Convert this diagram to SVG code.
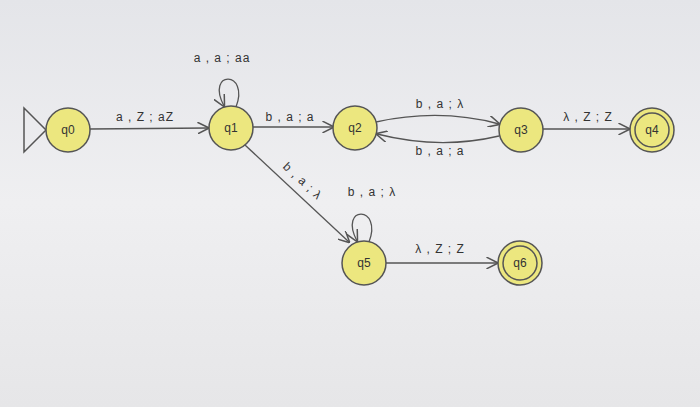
<svg xmlns="http://www.w3.org/2000/svg" width="700" height="407" viewBox="0 0 700 407">
<defs>
<linearGradient id="bg" x1="0" y1="0" x2="0" y2="1"><stop offset="0" stop-color="#e4e5e9"/><stop offset="0.5" stop-color="#efeff1"/><stop offset="1" stop-color="#e6e6e8"/></linearGradient>
<marker id="ar" viewBox="0 0 10 10" refX="9" refY="5" markerWidth="9" markerHeight="9" orient="auto"><path d="M0,0 L10,5 L0,10" fill="none" stroke="#555" stroke-width="1.3"/></marker>
</defs>
<style>
.n{fill:#ece77f;stroke:#555;stroke-width:1.5}
.t{font-family:"Liberation Sans",Arial,sans-serif;font-size:12px;fill:#333;text-anchor:middle}
.l{font-family:"Liberation Sans",Arial,sans-serif;font-size:12px;fill:#333;text-anchor:middle;letter-spacing:1px}
.e{fill:none;stroke:#555;stroke-width:1.3;marker-end:url(#ar)}
</style>
<rect width="700" height="407" fill="url(#bg)"/>
<g id="connectors">
<path class="e" d="M90,129 L208,128"/>
<path class="e" d="M236,107 C250,70 205,70 224,106"/>
<path class="e" d="M253,127 L333,127"/>
<path class="e" d="M376,122 Q440,108 499,124"/>
<path class="e" d="M499,136 Q440,150 377,134"/>
<path class="e" d="M543,129 L629,129"/>
<path class="e" d="M245,145 L349,242"/>
<path class="e" d="M369,242 C383,205 338,205 357,241"/>
<path class="e" d="M386,263 L497,263"/>
</g>
<g class="l">
<text x="145" y="121">a , Z ; aZ</text>
<text x="222" y="62">a , a ; aa</text>
<text x="290" y="121">b , a ; a</text>
<text x="440" y="108">b , a ; λ</text>
<text x="440" y="155">b , a ; a</text>
<text x="588" y="121">λ , Z ; Z</text>
<text x="300" y="184" transform="rotate(43 300 184)">b , a ; λ</text>
<text x="372" y="196">b , a ; λ</text>
<text x="440" y="253">λ , Z ; Z</text>
</g>
<path id="start" d="M24,108 L24,152 L46,130 Z" fill="none" stroke="#555" stroke-width="1.5"/>
<g id="q0"><circle class="n" cx="68" cy="130" r="22"/><text class="t" x="68" y="134">q0</text></g>
<g id="q1"><circle class="n" cx="231" cy="128" r="22"/><text class="t" x="231" y="132">q1</text></g>
<g id="q2"><circle class="n" cx="355" cy="128" r="22"/><text class="t" x="355" y="132">q2</text></g>
<g id="q3"><circle class="n" cx="521" cy="130" r="22"/><text class="t" x="521" y="134">q3</text></g>
<g id="q4"><circle class="n" cx="652" cy="130" r="22"/><circle cx="652" cy="130" r="17" fill="none" stroke="#555" stroke-width="1.5"/><text class="t" x="652" y="134">q4</text></g>
<g id="q5"><circle class="n" cx="364" cy="263" r="22"/><text class="t" x="364" y="267">q5</text></g>
<g id="q6"><circle class="n" cx="520" cy="263" r="22"/><circle cx="520" cy="263" r="17" fill="none" stroke="#555" stroke-width="1.5"/><text class="t" x="520" y="267">q6</text></g>
</svg>
